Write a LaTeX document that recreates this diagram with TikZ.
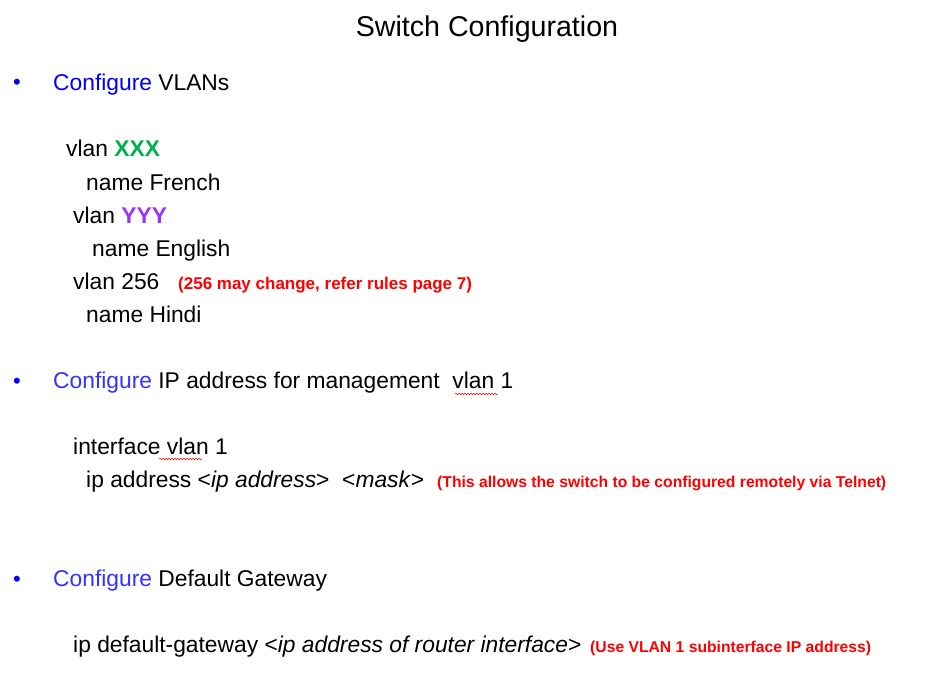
\documentclass[tikz,border=0pt]{standalone}
\usepackage{fontspec}
\setmainfont{Liberation Sans}
\usetikzlibrary{decorations.pathmorphing}
\definecolor{cblue}{RGB}{0,0,255}
\definecolor{cblue2}{RGB}{51,51,255}
\definecolor{cgreen}{RGB}{0,176,80}
\definecolor{cpurple}{RGB}{153,51,255}
\definecolor{cred}{RGB}{255,0,0}
\tikzset{
  txt/.style={anchor=base west,inner sep=0pt,font=\fontsize{22.8}{26}\selectfont},
  note/.style={anchor=base west,inner sep=0pt,text=cred,font=\fontsize{15.7}{18}\selectfont\bfseries},
  bul/.style={anchor=base west,inner sep=0pt,text=cblue,font=\fontsize{22}{24}\selectfont},
  squig/.style={draw=cred,line width=0.5pt,decorate,decoration={snake,amplitude=0.8pt,segment length=3pt}}
}
\begin{document}
\begin{tikzpicture}[x=1pt,y=-1pt]
\useasboundingbox[fill=white] (0,0) rectangle (931,674);
\node[anchor=base,inner sep=0pt,font=\fontsize{28.6}{32}\selectfont] (title) at (487,37) {Switch Configuration};
\node[bul] (b1) at (13,90) {•};
\node[txt] (c1) at (53,91) {\textcolor{cblue}{Configure} VLANs};
\node[txt] (v1) at (66,157) {vlan \textcolor{cgreen}{\bfseries XXX}};
\node[txt] (n1) at (86,190) {name French};
\node[txt] (v2) at (73,223) {vlan \textcolor{cpurple}{\bfseries YYY}};
\node[txt] (n2) at (92,256) {name English};
\node[txt] (v3) at (73,289) {vlan 256};
\node[note,font=\fontsize{17}{19}\selectfont\bfseries] (r1) at (178,289) {(256 may change, refer rules page 7)};
\node[txt] (n3) at (86,322) {name Hindi};
\node[bul] (b2) at (13,388) {•};
\node[txt] (c2) at (53,388) {\textcolor{cblue2}{Configure} IP address for management\ \ vlan 1};
\node[txt] (i1) at (73,454) {interface vlan 1};
\node[txt] (i2) at (86,487) {ip address <\textit{ip address}>\ \ <\textit{mask}>};
\node[note] (r2) at (437,487) {(This allows the switch to be configured remotely via Telnet)};
\node[bul] (b3) at (13,586) {•};
\node[txt] (c3) at (53,586) {\textcolor{cblue2}{Configure} Default Gateway};
\node[txt] (g1) at (73,652) {ip default-gateway <\textit{ip address of router interface}>};
\node[note] (r3) at (590,652) {(Use VLAN 1 subinterface IP address)};
\coordinate (s1a) at (455,394); \coordinate (s1b) at (498,394);
\draw[squig] (s1a) -- (s1b);
\coordinate (s2a) at (159,459); \coordinate (s2b) at (202,459);
\draw[squig] (s2a) -- (s2b);
\end{tikzpicture}
\end{document}
